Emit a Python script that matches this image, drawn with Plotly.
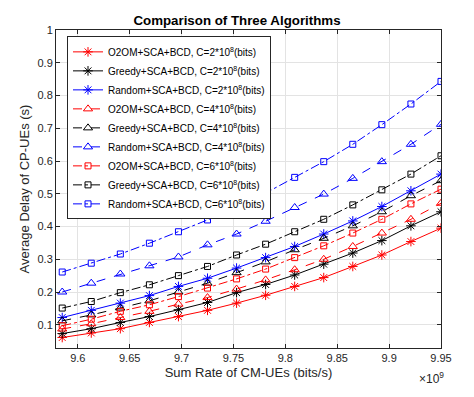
import plotly.graph_objects as go

x_rate = [9.585, 9.613, 9.641, 9.669, 9.697, 9.725, 9.753, 9.781, 9.809, 9.837, 9.865, 9.893, 9.921, 9.95]

o2om_c2 = [0.061, 0.075, 0.088, 0.107, 0.125, 0.144, 0.166, 0.190, 0.217, 0.244, 0.278, 0.313, 0.354, 0.395]
greedy_c2 = [0.073, 0.088, 0.107, 0.125, 0.146, 0.168, 0.198, 0.223, 0.252, 0.285, 0.319, 0.357, 0.402, 0.445]
random_c2 = [0.122, 0.144, 0.166, 0.189, 0.217, 0.242, 0.273, 0.305, 0.339, 0.377, 0.417, 0.461, 0.509, 0.560]
o2om_c4 = [0.087, 0.103, 0.122, 0.141, 0.163, 0.183, 0.209, 0.237, 0.268, 0.300, 0.339, 0.380, 0.422, 0.471]
greedy_c4 = [0.112, 0.130, 0.151, 0.173, 0.200, 0.227, 0.259, 0.292, 0.329, 0.364, 0.402, 0.445, 0.494, 0.540]
random_c4 = [0.200, 0.227, 0.255, 0.280, 0.307, 0.344, 0.377, 0.416, 0.458, 0.499, 0.547, 0.598, 0.651, 0.712]
o2om_c6 = [0.097, 0.117, 0.141, 0.161, 0.186, 0.212, 0.240, 0.270, 0.305, 0.341, 0.380, 0.422, 0.469, 0.514]
greedy_c6 = [0.151, 0.171, 0.198, 0.222, 0.250, 0.278, 0.313, 0.346, 0.384, 0.422, 0.466, 0.512, 0.560, 0.616]
random_c6 = [0.261, 0.288, 0.316, 0.349, 0.384, 0.420, 0.461, 0.502, 0.550, 0.598, 0.651, 0.711, 0.774, 0.843]

names = [
    "O2OM+SCA+BCD, C=2*10<sup>8</sup>(bits)",
    "Greedy+SCA+BCD, C=2*10<sup>8</sup>(bits)",
    "Random+SCA+BCD, C=2*10<sup>8</sup>(bits)",
    "O2OM+SCA+BCD, C=4*10<sup>8</sup>(bits)",
    "Greedy+SCA+BCD, C=4*10<sup>8</sup>(bits)",
    "Random+SCA+BCD, C=4*10<sup>8</sup>(bits)",
    "O2OM+SCA+BCD, C=6*10<sup>8</sup>(bits)",
    "Greedy+SCA+BCD, C=6*10<sup>8</sup>(bits)",
    "Random+SCA+BCD, C=6*10<sup>8</sup>(bits)",
]
series = [o2om_c2, greedy_c2, random_c2, o2om_c4, greedy_c4, random_c4, o2om_c6, greedy_c6, random_c6]
colors = ["#FF0000", "#000000", "#0000FF"] * 3
dashes = ["solid"] * 3 + ["dash"] * 3 + ["dashdot"] * 3
symbols = ["asterisk-open"] * 3 + ["triangle-up-open"] * 3 + ["square-open"] * 3
sizes = [8] * 3 + [8] * 3 + [6] * 3

fig = go.Figure()
for name, y, c, d, s, sz in zip(names, series, colors, dashes, symbols, sizes):
    fig.add_trace(go.Scatter(
        x=x_rate, y=y, name=name, mode="lines+markers",
        line=dict(color=c, width=1, dash=d),
        marker=dict(symbol=s, size=sz, color=c, line=dict(color=c, width=1)),
    ))

axis_common = dict(
    showline=True, linecolor="#262626", linewidth=1, mirror="allticks",
    ticks="inside", ticklen=4, tickcolor="#262626",
    showgrid=True, gridcolor="#E3E3E3", gridwidth=1, zeroline=False,
    tickfont=dict(size=11, color="#262626", family="Liberation Sans, Arial"),
)

# page body has an 8px default margin; the figure is sized to fit the 474x397 window
fig.update_layout(
    width=458, height=381,
    margin=dict(l=48, r=25, t=22, b=41),
    paper_bgcolor="white", plot_bgcolor="white",
    font=dict(family="Liberation Sans, Arial", size=11, color="#262626"),
    title=dict(text="<b>Comparison of Three Algorithms</b>", x=0.5, xanchor="center",
               y=0.968, yanchor="middle", font=dict(size=13.3, color="#000000")),
    xaxis=dict(axis_common, range=[9.579, 9.95], dtick=0.05, tick0=9.6,
               title=dict(text="Sum Rate of CM-UEs (bits/s)", standoff=4,
                          font=dict(size=13, color="#262626"))),
    yaxis=dict(axis_common, range=[0.029, 1.0], dtick=0.1, tick0=0.1,
               title=dict(text="Average Delay of CP-UEs (s)", standoff=4,
                          font=dict(size=13, color="#262626"))),
    legend=dict(x=0.0286, y=0.98, xanchor="left", yanchor="top",
                bgcolor="white", bordercolor="#262626", borderwidth=1,
                font=dict(size=10, color="#000000"), tracegroupgap=0,
                itemwidth=30),
    showlegend=True,
)

fig.add_annotation(text="×10<sup>9</sup>", xref="paper", yref="paper", x=1.014, y=-0.095,
                   xanchor="right", yanchor="middle", showarrow=False,
                   font=dict(size=12, color="#262626"))

fig.write_html("out.html")
